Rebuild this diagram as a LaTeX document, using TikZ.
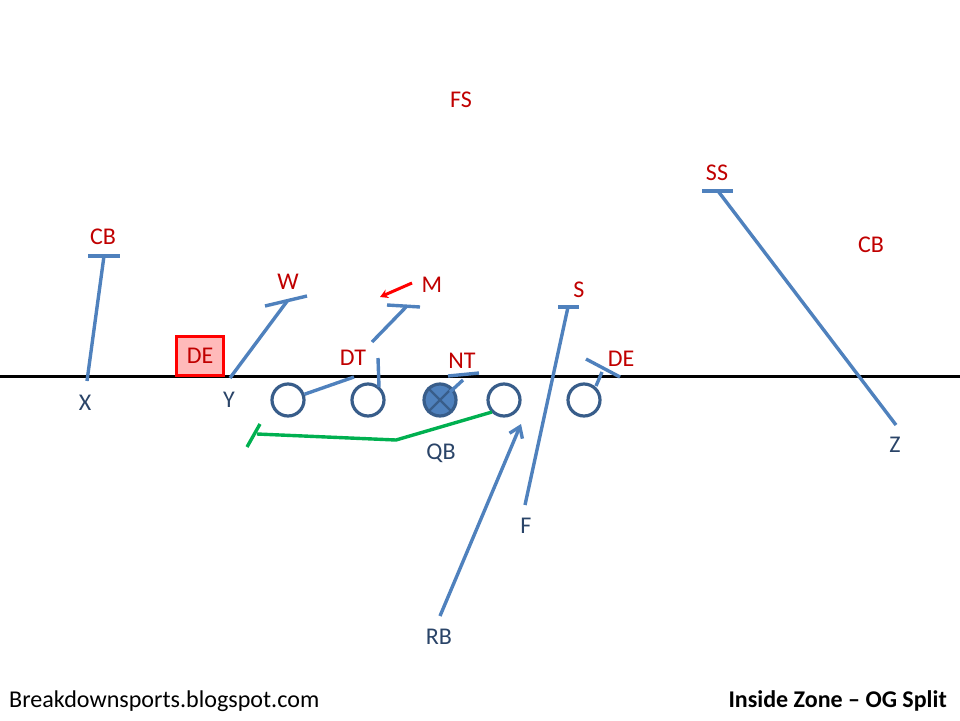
\documentclass[tikz,border=0pt]{standalone}
\usepackage{fontspec}
\setmainfont{Carlito}
\usetikzlibrary{arrows.meta}
\definecolor{defred}{HTML}{C00000}
\definecolor{offblue}{HTML}{2A4468}
\definecolor{routeblue}{HTML}{4F81BD}
\definecolor{ringblue}{HTML}{385D8A}
\definecolor{pullgreen}{HTML}{00B050}
\tikzset{
    defense/.style={text=defred, font=\fontsize{24}{28}\selectfont, inner sep=0pt, yshift=-1pt},
    offense/.style={text=offblue, font=\fontsize{24}{28}\selectfont, inner sep=0pt, yshift=-1pt},
    lineman/.style={circle, draw=ringblue, line width=3.2pt, minimum size=32pt, inner sep=0pt},
    block/.style={draw=routeblue, line width=3.4pt},
    pull/.style={draw=pullgreen, line width=3.4pt},
}
\begin{document}
\begin{tikzpicture}[x=1pt, y=-1pt]
    \useasboundingbox (0,0) rectangle (960,720);

    \coordinate (losL) at (0,376.5);
    \coordinate (losR) at (960,376.5);
    \draw[line width=3.4pt] (losL) -- (losR);

    \node[lineman] (lt) at (288,400) {};
    \node[lineman] (lg) at (368,400) {};
    \node[lineman, fill=routeblue] (ctr) at (440,400) {};
    \node[lineman] (rg) at (504,400) {};
    \node[lineman] (rt) at (584,400) {};
    \draw[ringblue, line width=2.4pt] (ctr.north west) -- (ctr.south east);
    \draw[ringblue, line width=2.4pt] (ctr.north east) -- (ctr.south west);

    \node[draw=red, fill=red!27, line width=3pt, minimum width=47pt, minimum height=39pt, text=defred, font=\fontsize{24}{28}\selectfont, inner sep=0pt] (deL) at (200,356) {DE};

    \node[defense] (fs) at (461,99) {FS};
    \node[defense] (ss) at (717,172) {SS};
    \node[defense] (cbL) at (103,236) {CB};
    \node[defense] (cbR) at (871,244) {CB};
    \node[defense] (w) at (288,281) {W};
    \node[defense] (m) at (432,284) {M};
    \node[defense] (s) at (579,289) {S};
    \node[defense] (dt) at (353,357) {DT};
    \node[defense] (nt) at (462,360) {NT};
    \node[defense] (deR) at (621,358) {DE};

    \node[offense] (x) at (85,402) {X};
    \node[offense] (y) at (229,399) {Y};
    \node[offense] (qb) at (441,452) {QB};
    \node[offense] (f) at (526,525) {F};
    \node[offense] (rb) at (439,636) {RB};
    \node[offense] (z) at (895,444) {Z};

    % outside receivers
    \coordinate (xTop) at (87,381);
    \coordinate (cbHit) at (104,256);
    \coordinate (cbBarL) at (88,256);
    \coordinate (cbBarR) at (120,256);
    \draw[block] (xTop) -- (cbHit);
    \draw[block] (cbBarL) -- (cbBarR);

    \coordinate (zTop) at (896,425);
    \coordinate (ssHit) at (718,191);
    \coordinate (ssBarL) at (702,191);
    \coordinate (ssBarR) at (733,191);
    \draw[block] (zTop) -- (ssHit);
    \draw[block] (ssBarL) -- (ssBarR);

    % Y on W
    \coordinate (yTop) at (230,378);
    \coordinate (wHit) at (288,300);
    \coordinate (wBarL) at (265,306);
    \coordinate (wBarR) at (307,296);
    \draw[block] (yTop) -- (wHit);
    \draw[block] (wBarL) -- (wBarR);

    % line
    \coordinate (ltEnd) at (354,377);
    \draw[block] (lt) -- (ltEnd);
    \coordinate (lgStart) at (379,387);
    \coordinate (lgEnd) at (378,358);
    \draw[block] (lgStart) -- (lgEnd);
    \coordinate (mStart) at (372,342);
    \coordinate (mHit) at (407,306);
    \coordinate (mBarL) at (387,305);
    \coordinate (mBarR) at (420,307);
    \draw[block] (mStart) -- (mHit);
    \draw[block] (mBarL) -- (mBarR);
    \coordinate (ctrStart) at (450,392);
    \coordinate (ctrEnd) at (463,380);
    \coordinate (ntBarL) at (448,376);
    \coordinate (ntBarR) at (479,373);
    \draw[block] (ctrStart) -- (ctrEnd);
    \draw[block] (ntBarL) -- (ntBarR);
    \coordinate (rtStart) at (596,386);
    \coordinate (rtEnd) at (602,372);
    \coordinate (deBarL) at (586,359);
    \coordinate (deBarR) at (620,377);
    \draw[block] (rtStart) -- (rtEnd);
    \draw[block] (deBarL) -- (deBarR);

    % F on S
    \coordinate (fTop) at (525,505);
    \coordinate (sHit) at (568,307);
    \coordinate (sBarL) at (558,307);
    \coordinate (sBarR) at (579,307);
    \draw[block] (fTop) -- (sHit);
    \draw[block] (sBarL) -- (sBarR);

    % RB path
    \coordinate (rbTop) at (440,616);
    \coordinate (rbTip) at (521,424);
    \draw[block, -{Straight Barb[length=10pt, width=14pt]}] (rbTop) -- (rbTip);

    % pulling guard
    \coordinate (rgStart) at (492,412);
    \coordinate (pullBend) at (396,440);
    \coordinate (pullEnd) at (257,434);
    \coordinate (pullBarT) at (260,424);
    \coordinate (pullBarB) at (247,447);
    \draw[pull] (rgStart) -- (pullBend) -- (pullEnd);
    \draw[pull] (pullBarT) -- (pullBarB);

    % M moves
    \coordinate (mArrowS) at (412,283);
    \coordinate (mArrowE) at (380,297);
    \draw[red, line width=3pt, -{Stealth[length=8pt, width=9pt]}] (mArrowS) -- (mArrowE);

    \node[font=\fontsize{24.1}{28}\selectfont, anchor=west, inner sep=0pt] (blog) at (9,701) {Breakdownsports.blogspot.com};
    \node[font=\fontsize{24}{28}\selectfont\bfseries, anchor=east, inner sep=0pt] (title) at (947,701) {Inside Zone – OG Split};
\end{tikzpicture}
\end{document}
